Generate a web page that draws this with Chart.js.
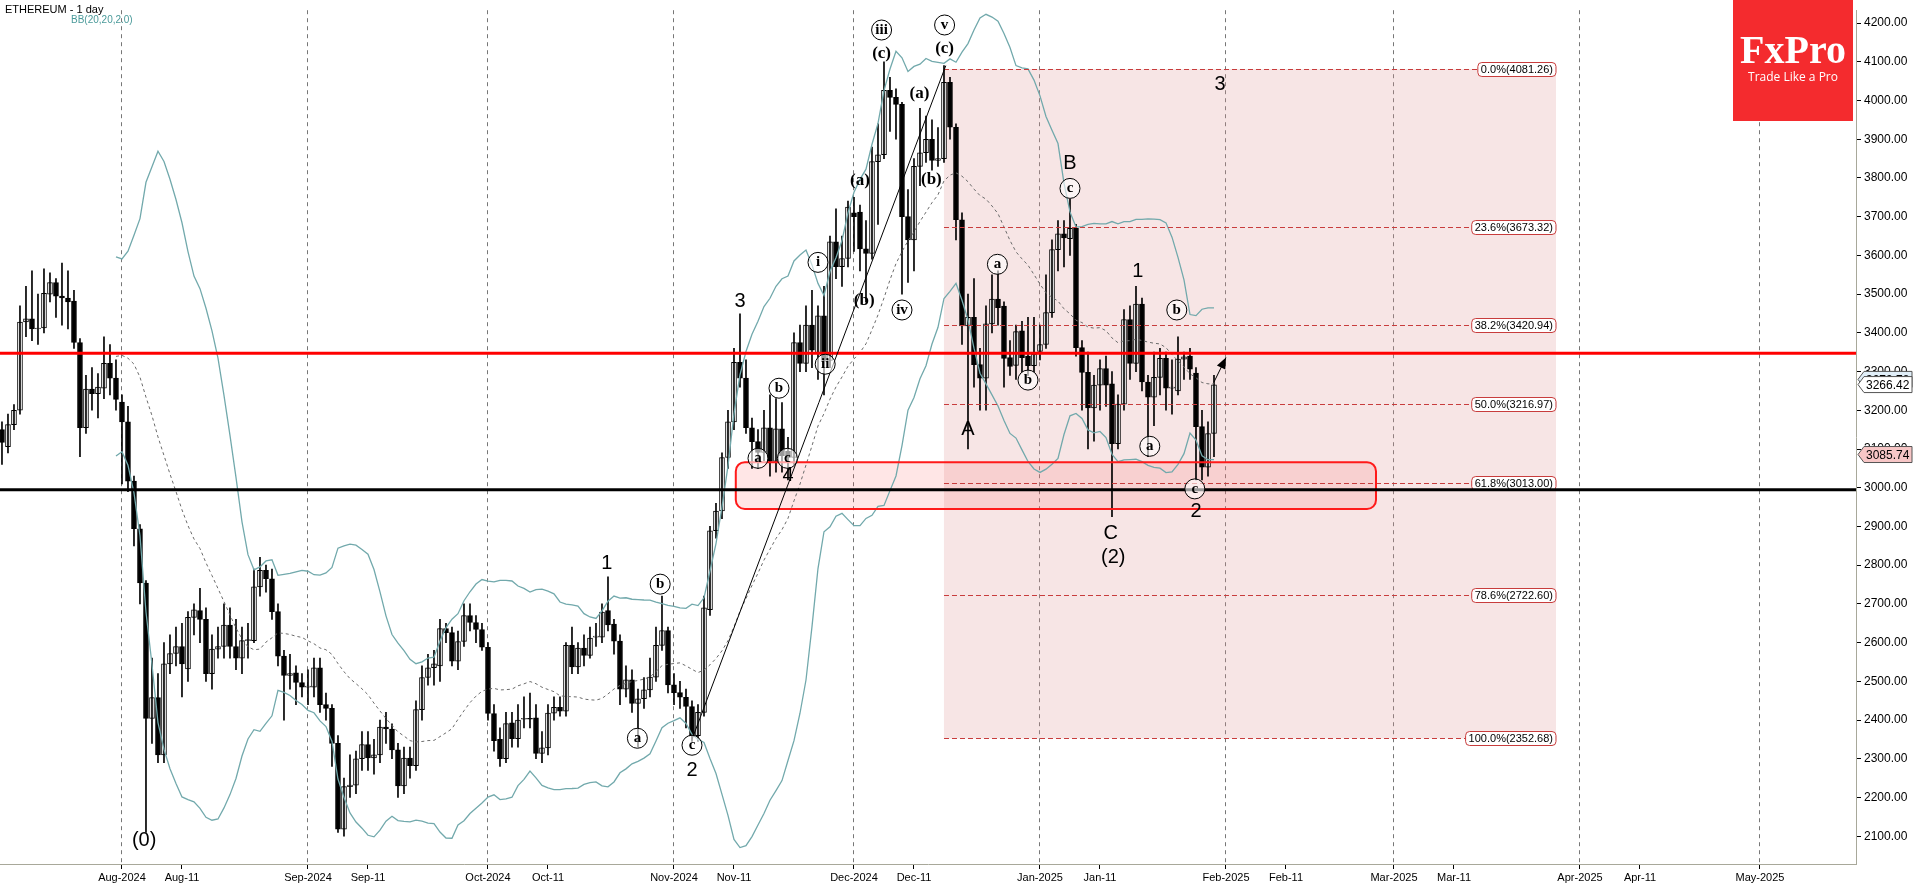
<!DOCTYPE html>
<html>
<head>
<meta charset="utf-8">
<script src="https://cdn.jsdelivr.net/npm/chart.js@4.4.1/dist/chart.umd.min.js"></script>
<style>
    html, body { margin: 0; padding: 0; background: #fff; }
    #chart { display: block; }
</style>
</head>
<body>
<canvas id="chart" width="1914" height="886"></canvas>
<script>
// daily candles, [open, high, low, close], bar index 0 = 11 Jul 2024
const ohlc = [
    [3150,3170,3060,3117],[3106,3190,3090,3163],[3163,3215,3150,3200],[3200,3470,3190,3428],[3428,3520,3390,3436],
    [3436,3560,3380,3410],[3410,3500,3370,3412],[3413,3565,3400,3502],[3500,3555,3480,3530],[3530,3540,3440,3495],
    [3495,3580,3420,3490],[3490,3560,3410,3480],[3482,3510,3360,3375],[3375,3385,3080,3155],[3155,3290,3140,3255],
    [3255,3310,3200,3243],[3243,3295,3180,3260],[3257,3390,3230,3321],[3321,3370,3240,3283],[3283,3330,3200,3228],
    [3221,3240,3010,3170],[3170,3210,2990,3017],[3017,3030,2850,2894],[2894,2905,2700,2754],[2754,2760,2110,2404],
    [2404,2560,2340,2458],[2458,2520,2290,2310],[2310,2600,2290,2545],[2545,2620,2520,2572],[2572,2640,2540,2590],
    [2590,2650,2460,2545],[2532,2680,2500,2665],[2665,2700,2620,2685],[2683,2740,2600,2660],[2660,2690,2500,2520],
    [2520,2620,2480,2583],[2583,2640,2560,2590],[2590,2700,2560,2645],[2645,2690,2560,2590],[2590,2660,2530,2560],
    [2560,2640,2520,2605],[2605,2650,2560,2608],[2605,2790,2600,2744],[2744,2820,2720,2787],[2787,2800,2730,2765],
    [2765,2790,2660,2680],[2680,2700,2540,2565],[2565,2580,2400,2515],[2515,2570,2480,2520],[2522,2540,2440,2497],
    [2497,2520,2460,2485],[2485,2530,2440,2488],[2485,2560,2460,2535],[2535,2560,2420,2440],[2440,2470,2400,2430],
    [2430,2440,2280,2340],[2340,2360,2110,2118],[2118,2250,2100,2228],[2228,2310,2200,2232],[2232,2320,2210,2300],
    [2300,2370,2270,2337],[2337,2370,2270,2302],[2302,2350,2260,2310],[2310,2400,2290,2382],[2382,2420,2340,2377],
    [2377,2390,2300,2323],[2323,2340,2200,2230],[2230,2330,2210,2302],[2302,2330,2250,2282],[2282,2450,2270,2427],
    [2427,2540,2400,2510],[2510,2570,2490,2535],[2535,2580,2490,2545],[2540,2660,2500,2636],[2636,2650,2600,2626],
    [2626,2640,2540,2552],[2552,2630,2530,2603],[2603,2700,2590,2670],[2670,2700,2630,2652],[2652,2670,2600,2634],
    [2634,2650,2580,2588],[2588,2600,2400,2417],[2417,2440,2320,2347],[2350,2380,2280,2300],[2300,2420,2290,2391],
    [2393,2420,2330,2352],[2352,2440,2330,2400],[2402,2460,2380,2404],[2404,2470,2380,2402],[2406,2440,2300,2314],
    [2314,2370,2290,2328],[2328,2440,2310,2418],[2418,2460,2400,2433],[2433,2460,2410,2423],[2423,2600,2410,2593],
    [2593,2640,2520,2537],[2537,2600,2520,2586],[2586,2620,2540,2567],[2567,2640,2560,2612],[2614,2650,2590,2616],
    [2614,2700,2600,2679],[2683,2770,2630,2646],[2648,2660,2570,2604],[2604,2620,2440,2480],[2480,2540,2460,2504],
    [2504,2530,2420,2443],[2443,2480,2330,2455],[2455,2510,2430,2478],[2478,2560,2460,2511],[2511,2640,2500,2593],
    [2593,2720,2580,2631],[2631,2640,2470,2491],[2491,2520,2440,2471],[2471,2500,2430,2459],[2459,2480,2380,2435],
    [2435,2450,2345,2360],[2360,2440,2345,2420],[2420,2720,2410,2690],[2685,2900,2670,2889],[2889,2960,2870,2940],
    [2940,3090,2920,3078],[3078,3200,3050,3170],[3170,3360,3150,3324],[3324,3449,3260,3283],[3283,3330,3140,3155],
    [3155,3180,3050,3119],[3119,3150,3050,3091],[3091,3200,3070,3155],[3155,3240,3030,3068],[3068,3230,3040,3152],
    [3152,3220,3040,3083],[3094,3130,3020,3078],[3078,3400,3060,3375],[3375,3420,3300,3321],[3321,3470,3300,3420],
    [3420,3510,3310,3355],[3349,3470,3280,3444],[3444,3520,3240,3329],[3329,3650,3310,3635],[3635,3720,3540,3571],
    [3571,3650,3520,3592],[3592,3740,3570,3725],[3710,3750,3610,3700],[3712,3730,3560,3617],[3617,3690,3480,3605],
    [3605,3880,3590,3842],[3842,3940,3680,3860],[3860,4100,3850,4026],[4026,4060,3920,4008],[4008,4030,3900,3990],
    [3990,3995,3500,3700],[3700,3770,3530,3640],[3640,3850,3560,3830],[3830,3980,3780,3865],[3865,3960,3840,3900],
    [3900,3950,3820,3845],[3845,3930,3830,3850],[3850,4090,3840,4047],[4047,4060,3900,3931],[3931,3940,3640,3692],
    [3692,3710,3370,3418],[3418,3500,3100,3440],[3440,3540,3260,3318],[3318,3360,3200,3283],[3283,3470,3200,3423],
    [3423,3550,3400,3487],[3487,3560,3420,3465],[3469,3480,3260,3334],[3336,3380,3290,3313],[3316,3420,3280,3403],
    [3405,3430,3300,3336],[3340,3440,3290,3315],[3315,3440,3300,3345],[3352,3420,3330,3370],[3370,3550,3360,3452],
    [3452,3640,3440,3615],[3615,3690,3560,3656],[3656,3690,3570,3645],[3643,3745,3600,3670],[3670,3680,3340,3362],
    [3362,3380,3200,3298],[3298,3350,3100,3206],[3206,3290,3120,3265],[3265,3330,3200,3308],[3308,3340,3210,3265],
    [3268,3300,2925,3114],[3114,3240,3100,3216],[3216,3460,3200,3434],[3434,3470,3280,3321],[3321,3520,3300,3474],
    [3474,3490,3250,3273],[3273,3290,3080,3234],[3234,3350,3160,3285],[3285,3360,3240,3334],[3334,3350,3200,3257],
    [3257,3330,3190,3260],[3250,3390,3240,3332],[3332,3350,3280,3338],[3340,3360,3280,3306],[3296,3310,3020,3158],
    [3158,3200,3020,3053],[3053,3170,3030,3140],[3140,3290,3080,3266]
];

const tickPos = [20, 30, 51, 61, 81, 91, 112, 122, 142, 152, 173, 183, 204, 214, 232, 242, 263, 273, 293];
const tickLabels = ['Aug-2024', 'Aug-11', 'Sep-2024', 'Sep-11', 'Oct-2024', 'Oct-11', 'Nov-2024', 'Nov-11',
    'Dec-2024', 'Dec-11', 'Jan-2025', 'Jan-11', 'Feb-2025', 'Feb-11', 'Mar-2025', 'Mar-11', 'Apr-2025', 'Apr-11', 'May-2025'];

const fibLevels = [4081.26, 3673.32, 3420.94, 3216.97, 3013.00, 2722.60, 2352.68];
const fibNames = ['0.0%', '23.6%', '38.2%', '50.0%', '61.8%', '78.6%', '100.0%'];
const fibFrom = 157, fibTo = 259;

const resistance = 3347;
const support = 2995;
const zone = { from: 122.3, to: 229, top: 3066, bottom: 2945 };
const waveLine = [[115, 2350], [157.3, 4090]];
const nextArrow = [[202, 3273], [204, 3336]];

// [text, bar index, price, style]
const waveLabels = [
    ['(0)', 23.7, 2090, 'big'], ['1', 100.8, 2805, 'big'], ['b', 109.7, 2751, 'circle'], ['a', 105.9, 2353, 'circle'],
    ['c', 115, 2335, 'circle'], ['2', 115, 2271, 'big'], ['3', 123, 3482, 'big'], ['b', 129.5, 3257, 'circle'],
    ['a', 126, 3076, 'circle'], ['c', 130.9, 3076, 'circle'], ['4', 131, 3032, 'big'], ['ii', 137.2, 3319, 'circle'],
    ['i', 136, 3582, 'circle'], ['(b)', 143.7, 3482, 'paren'], ['(a)', 143, 3794, 'paren'], ['(c)', 146.6, 4121, 'paren'],
    ['iii', 146.6, 4182, 'circle'], ['iv', 150, 3459, 'circle'], ['(a)', 152.9, 4018, 'paren'], ['(b)', 154.9, 3796, 'paren'],
    ['(c)', 157.1, 4133, 'paren'], ['v', 157.1, 4195, 'circle'], ['3', 203, 4042, 'big'], ['A', 161, 3150, 'big'],
    ['B', 178, 3837, 'big'], ['c', 178, 3773, 'circle'], ['a', 165.9, 3577, 'circle'], ['b', 171, 3278, 'circle'],
    ['1', 189.3, 3559, 'big'], ['b', 195.8, 3459, 'circle'], ['a', 191.3, 3107, 'circle'], ['C', 184.8, 2882, 'big'],
    ['(2)', 185.2, 2821, 'big'], ['c', 198.8, 2997, 'circle'], ['2', 199, 2938, 'big']
];

const closes = ohlc.map(c => c[3]);
// Bollinger bands (20, 2) from the closes
const bbUpper = [], bbMid = [], bbLower = [];
closes.forEach((c, i) => {
    if (i < 19) return;
    const win = closes.slice(i - 19, i + 1);
    const m = win.reduce((a, b) => a + b, 0) / 20;
    const sd = Math.sqrt(win.reduce((a, b) => a + (b - m) * (b - m), 0) / 20);
    bbMid.push({ x: i, y: m });
    bbUpper.push({ x: i, y: m + 2 * sd });
    bbLower.push({ x: i, y: m - 2 * sd });
});

const wicks = ohlc.map((c, i) => ({ x: i, y: [c[2], c[1]] }));
const bodies = ohlc.map((c, i) => ({ x: i, y: [Math.min(c[0], c[3]), Math.max(c[0], c[3])] }));
const bodyColors = ohlc.map(c => c[3] >= c[0] ? '#ffffff' : '#000000');

const fibRed = '#c83c3c';

function roundRect(ctx, x, y, w, h, r) {
    ctx.beginPath();
    ctx.moveTo(x + r, y);
    ctx.arcTo(x + w, y, x + w, y + h, r);
    ctx.arcTo(x + w, y + h, x, y + h, r);
    ctx.arcTo(x, y + h, x, y, r);
    ctx.arcTo(x, y, x + w, y, r);
    ctx.closePath();
}

const overlay = {
    id: 'overlay',
    beforeDatasetsDraw(chart) {
        const { ctx, scales: { x, y } } = chart;
        ctx.save();
        ctx.fillStyle = 'rgba(225,150,150,0.25)';
        ctx.fillRect(x.getPixelForValue(fibFrom), y.getPixelForValue(fibLevels[0]),
            x.getPixelForValue(fibTo) - x.getPixelForValue(fibFrom),
            y.getPixelForValue(fibLevels[6]) - y.getPixelForValue(fibLevels[0]));
        const zx0 = x.getPixelForValue(zone.from), zx1 = x.getPixelForValue(zone.to);
        const zy0 = y.getPixelForValue(zone.top), zy1 = y.getPixelForValue(zone.bottom);
        roundRect(ctx, zx0, zy0, zx1 - zx0, zy1 - zy0, 9);
        ctx.fillStyle = 'rgba(255,60,60,0.13)';
        ctx.fill();
        ctx.restore();
    },
    afterDatasetsDraw(chart) {
        const { ctx, chartArea: area, scales: { x, y } } = chart;
        ctx.save();

        // fibonacci levels
        ctx.font = '11px "Liberation Sans", Arial, sans-serif';
        ctx.textBaseline = 'middle';
        fibLevels.forEach((lv, k) => {
            const py = Math.round(y.getPixelForValue(lv)) + 0.5;
            const x0 = x.getPixelForValue(fibFrom), x1 = x.getPixelForValue(fibTo);
            ctx.strokeStyle = fibRed;
            ctx.lineWidth = 1;
            ctx.setLineDash([5, 3]);
            ctx.beginPath(); ctx.moveTo(x0, py); ctx.lineTo(x1, py); ctx.stroke();
            ctx.setLineDash([]);
            const label = fibNames[k] + '(' + lv.toFixed(2) + ')';
            const w = ctx.measureText(label).width + 6;
            roundRect(ctx, x1 - w, py - 7, w, 14, 4);
            ctx.fillStyle = '#fff'; ctx.fill(); ctx.stroke();
            ctx.fillStyle = '#000';
            ctx.textAlign = 'left';
            ctx.fillText(label, x1 - w + 3, py + 0.5);
        });

        // zone border
        const zx0 = x.getPixelForValue(zone.from), zx1 = x.getPixelForValue(zone.to);
        const zy0 = y.getPixelForValue(zone.top), zy1 = y.getPixelForValue(zone.bottom);
        roundRect(ctx, zx0, zy0, zx1 - zx0, zy1 - zy0, 9);
        ctx.strokeStyle = '#ff1a1a'; ctx.lineWidth = 2; ctx.stroke();

        // horizontal levels
        ctx.lineWidth = 3;
        ctx.strokeStyle = '#ff0000';
        let py = y.getPixelForValue(resistance);
        ctx.beginPath(); ctx.moveTo(area.left, py); ctx.lineTo(area.right, py); ctx.stroke();
        ctx.strokeStyle = '#000';
        py = y.getPixelForValue(support);
        ctx.beginPath(); ctx.moveTo(area.left, py); ctx.lineTo(area.right, py); ctx.stroke();

        // wave line
        ctx.lineWidth = 1;
        ctx.beginPath();
        ctx.moveTo(x.getPixelForValue(waveLine[0][0]), y.getPixelForValue(waveLine[0][1]));
        ctx.lineTo(x.getPixelForValue(waveLine[1][0]), y.getPixelForValue(waveLine[1][1]));
        ctx.stroke();

        // projection arrow
        const ax0 = x.getPixelForValue(nextArrow[0][0]), ay0 = y.getPixelForValue(nextArrow[0][1]);
        const ax1 = x.getPixelForValue(nextArrow[1][0]), ay1 = y.getPixelForValue(nextArrow[1][1]);
        ctx.beginPath(); ctx.moveTo(ax0, ay0); ctx.lineTo(ax1, ay1); ctx.stroke();
        const ang = Math.atan2(ay1 - ay0, ax1 - ax0);
        ctx.beginPath();
        ctx.moveTo(ax1, ay1);
        ctx.lineTo(ax1 - 12 * Math.cos(ang - 0.4), ay1 - 12 * Math.sin(ang - 0.4));
        ctx.lineTo(ax1 - 12 * Math.cos(ang + 0.4), ay1 - 12 * Math.sin(ang + 0.4));
        ctx.closePath(); ctx.fillStyle = '#000'; ctx.fill();

        // wave labels
        ctx.textAlign = 'center';
        ctx.textBaseline = 'middle';
        waveLabels.forEach(([t, i, p, style]) => {
            const lx = x.getPixelForValue(i), ly = y.getPixelForValue(p);
            if (style === 'circle') {
                ctx.beginPath(); ctx.arc(lx, ly, 10, 0, Math.PI * 2);
                ctx.fillStyle = 'rgba(255,255,255,0.6)'; ctx.fill();
                ctx.strokeStyle = '#000'; ctx.lineWidth = 1; ctx.stroke();
                ctx.fillStyle = '#000';
                ctx.font = 'bold 15px "Liberation Serif", serif';
                ctx.fillText(t, lx, ly);
            } else if (style === 'paren') {
                ctx.fillStyle = '#000';
                ctx.font = 'bold 17px "Liberation Serif", serif';
                ctx.fillText(t, lx, ly);
            } else {
                ctx.fillStyle = '#000';
                ctx.font = '20px "Liberation Sans", Arial, sans-serif';
                ctx.fillText(t, lx, ly);
            }
        });

        // title
        ctx.textAlign = 'left';
        ctx.textBaseline = 'top';
        ctx.fillStyle = '#000';
        ctx.font = '11px "Liberation Sans", Arial, sans-serif';
        ctx.fillText('ETHEREUM - 1 day', 5, 4);
        ctx.fillStyle = '#4a9a9a';
        ctx.font = '10px "Liberation Sans", Arial, sans-serif';
        ctx.fillText('BB(20,20,2.0)', 71, 15);

        // logo
        ctx.fillStyle = '#f42b2e';
        ctx.fillRect(1733, 0, 120, 121);
        ctx.fillStyle = '#fff';
        ctx.textAlign = 'center';
        ctx.textBaseline = 'alphabetic';
        ctx.font = 'bold 40px "Liberation Serif", serif';
        ctx.fillText('FxPro', 1793, 63);
        ctx.font = '12px "Open Sans", "Liberation Sans", sans-serif';
        ctx.fillText('Trade Like a Pro', 1793, 81);

        // price tags on the axis
        const tag = (val, bg) => {
            const ty = y.getPixelForValue(val);
            ctx.beginPath();
            ctx.moveTo(area.right + 2, ty);
            ctx.lineTo(area.right + 8, ty - 8);
            ctx.lineTo(1912, ty - 8); ctx.lineTo(1912, ty + 8);
            ctx.lineTo(area.right + 8, ty + 8); ctx.closePath();
            ctx.fillStyle = bg; ctx.fill();
            ctx.strokeStyle = '#555'; ctx.lineWidth = 1; ctx.stroke();
            ctx.fillStyle = '#000';
            ctx.textAlign = 'left'; ctx.textBaseline = 'middle';
            ctx.font = '12px "Liberation Sans", Arial, sans-serif';
            ctx.fillText(val.toFixed(2), area.right + 10, ty + 1);
        };
        tag(3279.78, '#e0eef8');
        tag(closes[closes.length - 1] + 0.42, '#ffffff');
        tag(3085.74, '#f7c6c6');
        ctx.restore();
    }
};

new Chart(document.getElementById('chart'), {
    data: {
        datasets: [
            { type: 'line', data: bbUpper, borderColor: '#72a9ac', borderWidth: 1.3, pointRadius: 0, tension: 0 },
            { type: 'line', data: bbLower, borderColor: '#72a9ac', borderWidth: 1.3, pointRadius: 0, tension: 0 },
            { type: 'line', data: bbMid, borderColor: '#6b6b6b', borderWidth: 1, borderDash: [3, 3], pointRadius: 0, tension: 0 },
            { type: 'bar', data: wicks, backgroundColor: '#000', barThickness: 1, grouped: false },
            { type: 'bar', data: bodies, backgroundColor: bodyColors, borderColor: '#000', borderWidth: 1,
              borderSkipped: false, barThickness: 5, minBarLength: 1, grouped: false }
        ]
    },
    options: {
        responsive: false,
        animation: false,
        devicePixelRatio: 1,
        layout: { padding: 0 },
        plugins: { legend: { display: false }, tooltip: { enabled: false } },
        scales: {
            x: {
                type: 'linear',
                offset: false,
                min: -0.33,
                max: 309,
                afterBuildTicks(scale) { scale.ticks = tickPos.map(v => ({ value: v })); },
                afterFit(scale) { scale.height = 22; },
                ticks: {
                    autoSkip: false, maxRotation: 0, padding: 2,
                    color: '#000',
                    font: { family: '"Liberation Sans", Arial, sans-serif', size: 11 },
                    callback: v => tickLabels[tickPos.indexOf(v)]
                },
                grid: {
                    offset: false,
                    color: ctx => (ctx.tick && tickLabels[tickPos.indexOf(ctx.tick.value)] || '').indexOf('-2') > 0 ? '#777' : 'rgba(0,0,0,0)',
                    tickColor: '#000', tickLength: 5, lineWidth: 1
                },
                border: { display: true, color: '#a8a89a', dash: [4, 4] }
            },
            y: {
                position: 'right',
                min: 2028.3,
                max: 4233.2,
                afterFit(scale) { scale.width = 58; },
                afterBuildTicks(scale) {
                    const t = [];
                    for (let v = 2100; v <= 4200; v += 100) t.push({ value: v });
                    scale.ticks = t;
                },
                ticks: {
                    color: '#000', padding: 3,
                    font: { family: '"Liberation Sans", Arial, sans-serif', size: 12 },
                    callback: v => v.toFixed(2)
                },
                grid: { drawOnChartArea: false, tickColor: '#000', tickLength: 5 },
                border: { display: true, color: '#a8a89a' }
            }
        }
    },
    plugins: [overlay]
});
</script>
</body>
</html>
